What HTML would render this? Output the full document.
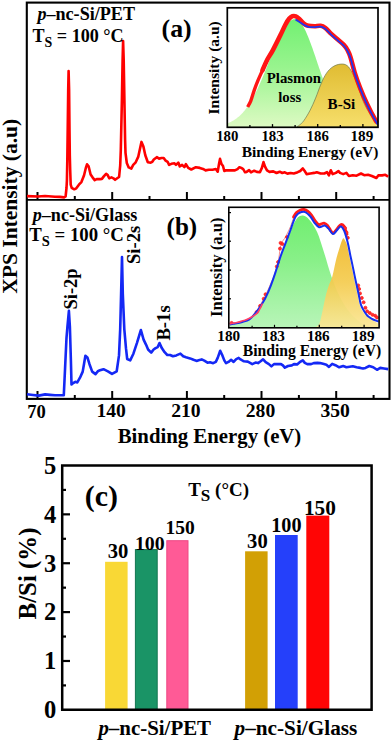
<!DOCTYPE html>
<html><head><meta charset="utf-8"><style>
*{margin:0;padding:0}
html,body{width:392px;height:740px;background:#fff;overflow:hidden}
svg{display:block}
text{font-family:"Liberation Serif",serif;font-weight:bold;fill:#000}
</style></head>
<body><svg width="392" height="740" viewBox="0 0 392 740">
<defs>
<linearGradient id="gga" gradientUnits="userSpaceOnUse" x1="0" y1="19" x2="0" y2="126"><stop offset="0" stop-color="#72F072"/><stop offset="0.45" stop-color="#98F48E"/><stop offset="1" stop-color="#DCFAC2"/></linearGradient>
<linearGradient id="yga" gradientUnits="userSpaceOnUse" x1="0" y1="64" x2="0" y2="126"><stop offset="0" stop-color="#E0BC32"/><stop offset="1" stop-color="#F6DE6A"/></linearGradient>
<linearGradient id="ggb" gradientUnits="userSpaceOnUse" x1="0" y1="215" x2="0" y2="327"><stop offset="0" stop-color="#70EE70"/><stop offset="0.4" stop-color="#88F088"/><stop offset="1" stop-color="#B8F5B8"/></linearGradient>
<linearGradient id="ygb" gradientUnits="userSpaceOnUse" x1="0" y1="238" x2="0" y2="327"><stop offset="0" stop-color="#F0B82A"/><stop offset="0.5" stop-color="#F4CC50"/><stop offset="1" stop-color="#FAE694"/></linearGradient>
</defs>
<rect x="26.8" y="2.6" width="362.7" height="396.3" fill="none" stroke="#000" stroke-width="2.1"/>
<line x1="27" y1="199.8" x2="389.5" y2="199.8" stroke="#000" stroke-width="1.8"/>
<line x1="37.5" y1="199.0" x2="37.5" y2="192.0" stroke="#000" stroke-width="2"/>
<line x1="37.5" y1="398.0" x2="37.5" y2="391.0" stroke="#000" stroke-width="2"/>
<line x1="74.8" y1="199.0" x2="74.8" y2="196.0" stroke="#000" stroke-width="2"/>
<line x1="74.8" y1="398.0" x2="74.8" y2="395.0" stroke="#000" stroke-width="2"/>
<line x1="112.2" y1="199.0" x2="112.2" y2="192.0" stroke="#000" stroke-width="2"/>
<line x1="112.2" y1="398.0" x2="112.2" y2="391.0" stroke="#000" stroke-width="2"/>
<line x1="149.5" y1="199.0" x2="149.5" y2="196.0" stroke="#000" stroke-width="2"/>
<line x1="149.5" y1="398.0" x2="149.5" y2="395.0" stroke="#000" stroke-width="2"/>
<line x1="186.9" y1="199.0" x2="186.9" y2="192.0" stroke="#000" stroke-width="2"/>
<line x1="186.9" y1="398.0" x2="186.9" y2="391.0" stroke="#000" stroke-width="2"/>
<line x1="224.2" y1="199.0" x2="224.2" y2="196.0" stroke="#000" stroke-width="2"/>
<line x1="224.2" y1="398.0" x2="224.2" y2="395.0" stroke="#000" stroke-width="2"/>
<line x1="261.5" y1="199.0" x2="261.5" y2="192.0" stroke="#000" stroke-width="2"/>
<line x1="261.5" y1="398.0" x2="261.5" y2="391.0" stroke="#000" stroke-width="2"/>
<line x1="298.9" y1="199.0" x2="298.9" y2="196.0" stroke="#000" stroke-width="2"/>
<line x1="298.9" y1="398.0" x2="298.9" y2="395.0" stroke="#000" stroke-width="2"/>
<line x1="336.2" y1="199.0" x2="336.2" y2="192.0" stroke="#000" stroke-width="2"/>
<line x1="336.2" y1="398.0" x2="336.2" y2="391.0" stroke="#000" stroke-width="2"/>
<line x1="373.6" y1="199.0" x2="373.6" y2="196.0" stroke="#000" stroke-width="2"/>
<line x1="373.6" y1="398.0" x2="373.6" y2="395.0" stroke="#000" stroke-width="2"/>
<path d="M27.0,196.1 L38.0,196.5 L45.0,196.0 L55.0,196.7 L60.0,196.9 L64.1,197.4 L65.6,196.5 L66.5,188.0 L66.9,180.6 L67.3,160.2 L67.7,130.0 L68.2,90.0 L68.6,71.0 L69.1,90.0 L69.5,130.0 L69.8,155.0 L70.2,170.4 L70.7,184.7 L71.7,187.8 L74.3,189.3 L76.3,188.3 L78.9,184.7 L81.4,182.1 L84.0,175.5 L86.0,167.3 L87.0,164.3 L88.6,166.3 L90.6,174.5 L92.7,177.6 L94.7,180.1 L96.7,179.1 L100.0,179.1 L101.9,178.9 L103.8,176.4 L106.1,173.8 L107.7,175.1 L109.2,178.3 L111.5,177.4 L113.4,178.3 L115.1,179.8 L117.2,178.3 L119.1,177.0 L120.2,165.5 L120.8,150.0 L121.9,100.0 L122.6,60.0 L123.1,41.0 L123.7,60.0 L124.4,100.0 L125.1,140.0 L125.5,152.8 L126.8,163.0 L128.7,167.4 L131.3,168.7 L133.2,164.9 L135.7,162.3 L138.3,156.6 L140.2,147.7 L141.5,141.9 L143.4,146.4 L145.3,155.3 L147.8,162.3 L150.7,162.6 L152.3,161.8 L153.8,159.5 L156.8,157.2 L159.1,158.7 L161.4,158.0 L163.7,158.0 L165.3,160.3 L167.6,161.8 L169.1,164.9 L171.4,163.8 L174.5,163.3 L176.0,164.9 L178.3,162.6 L179.8,166.4 L182.1,164.9 L184.4,167.2 L185.9,164.1 L188.2,167.9 L191.3,169.5 L195.9,167.2 L199.8,167.9 L203.0,168.9 L205.6,170.4 L208.8,169.8 L212.6,169.8 L215.8,169.1 L217.7,171.7 L219.0,164.0 L220.0,158.9 L221.5,164.0 L223.0,166.0 L224.3,171.0 L226.0,170.2 L229.2,170.4 L232.4,170.2 L234.9,170.4 L237.5,169.1 L239.4,167.2 L241.3,167.9 L243.2,169.1 L245.1,172.3 L246.6,171.9 L249.1,170.2 L251.0,172.3 L254.2,170.7 L256.8,171.9 L259.9,172.3 L261.9,167.9 L263.5,162.1 L265.0,166.6 L267.0,170.4 L269.5,171.9 L273.3,171.4 L276.5,173.0 L279.7,171.7 L282.3,173.0 L284.8,172.3 L287.4,173.6 L290.6,173.0 L293.8,173.5 L297.7,172.2 L300.2,171.0 L302.8,168.4 L304.7,171.0 L306.6,174.1 L310.4,173.5 L314.2,172.9 L316.8,172.2 L320.6,173.5 L324.4,173.5 L327.0,172.2 L328.9,175.4 L330.8,170.3 L332.7,174.1 L335.9,172.9 L338.5,171.0 L340.0,172.9 L343.2,174.1 L346.4,172.9 L348.9,176.0 L352.8,175.2 L356.6,175.7 L361.0,173.5 L364.2,175.2 L368.1,174.8 L371.9,176.0 L376.4,178.0 L378.3,175.4 L382.1,175.4 L385.3,174.8 L388.2,176.7" fill="none" stroke="#FF0000" stroke-width="2.6" stroke-linejoin="round"/>
<path d="M27.0,394.3 L33.0,395.0 L38.8,395.6 L45.1,394.4 L50.0,394.9 L55.0,395.3 L63.8,395.3 L65.1,367.6 L66.5,337.8 L67.4,327.0 L68.9,310.8 L69.9,327.0 L70.9,360.8 L71.5,384.5 L73.2,383.1 L75.3,381.8 L77.3,382.4 L80.0,377.7 L82.7,371.6 L84.1,363.5 L85.4,355.7 L87.4,357.4 L89.5,364.2 L92.2,371.6 L95.5,374.1 L98.2,370.9 L100.0,370.3 L103.5,369.2 L107.9,371.3 L112.0,373.9 L116.7,371.3 L119.0,355.4 L120.2,329.1 L121.1,293.9 L122.0,257.0 L122.8,293.9 L124.3,329.1 L126.0,348.4 L127.2,359.0 L130.2,360.4 L133.4,353.7 L136.9,343.1 L140.9,330.0 L143.6,339.6 L146.0,344.6 L148.1,349.5 L151.2,352.6 L153.6,349.5 L155.6,348.1 L157.7,347.1 L159.5,343.0 L161.8,348.1 L164.6,352.2 L167.3,355.0 L170.1,355.0 L172.9,356.3 L176.3,355.4 L180.4,353.6 L183.2,356.3 L186.0,357.3 L190.1,358.4 L193.5,359.8 L197.0,360.9 L198.6,360.2 L201.7,359.4 L204.3,360.7 L207.5,362.7 L210.0,362.3 L213.2,363.2 L215.8,361.9 L217.7,357.9 L220.2,350.8 L222.1,354.7 L224.3,360.4 L226.0,363.2 L228.5,361.9 L231.1,359.8 L233.6,361.9 L236.2,359.1 L238.7,357.9 L240.6,359.4 L243.2,361.0 L244.0,361.3 L247.8,361.6 L252.3,364.1 L255.5,362.6 L258.0,363.1 L260.6,361.3 L263.1,359.3 L265.7,362.2 L268.9,364.1 L271.4,366.4 L274.0,364.1 L277.2,364.1 L281.0,364.1 L282.9,365.4 L284.8,367.7 L288.0,366.0 L291.8,365.4 L294.0,364.1 L297.1,364.4 L299.7,362.2 L302.8,360.3 L304.8,362.9 L307.3,364.1 L311.1,364.1 L313.7,363.1 L317.5,362.9 L320.1,363.1 L323.9,364.1 L326.4,364.8 L329.0,366.9 L332.2,363.9 L335.4,365.2 L339.2,367.3 L343.2,366.0 L346.4,367.2 L352.8,366.3 L356.6,367.2 L360.4,367.9 L363.0,368.5 L365.5,367.9 L369.3,366.0 L373.2,367.2 L377.0,369.8 L380.2,367.9 L384.0,368.5 L388.2,369.1" fill="none" stroke="#1428F5" stroke-width="2.6" stroke-linejoin="round"/>
<rect x="227.3" y="7.8" width="150.7" height="119.5" fill="#fff"/>
<path d="M227.8,127.0 L227.8,123.2 L228.5,122.9 L229.3,122.6 L230.0,122.2 L230.8,121.9 L231.5,121.5 L232.3,121.1 L233.0,120.7 L233.8,120.3 L234.5,119.8 L235.3,119.3 L236.0,118.8 L236.8,118.2 L237.5,117.6 L238.3,117.0 L239.0,116.4 L239.8,115.7 L240.5,115.0 L241.3,114.3 L242.0,113.5 L242.8,112.7 L243.5,111.8 L244.3,110.9 L245.0,110.0 L245.8,109.1 L246.5,108.1 L247.3,107.0 L248.0,105.9 L248.8,104.8 L249.5,103.7 L250.3,102.5 L251.0,101.2 L251.8,100.0 L252.5,98.7 L253.2,97.3 L254.0,95.9 L254.7,94.5 L255.5,93.0 L256.2,91.5 L257.0,90.0 L257.7,88.4 L258.5,86.8 L259.2,85.1 L260.0,83.5 L260.7,81.8 L261.5,80.0 L262.2,78.3 L263.0,76.5 L263.7,74.7 L264.5,72.9 L265.2,71.0 L266.0,69.2 L266.7,67.3 L267.5,65.5 L268.2,63.6 L269.0,61.7 L269.7,59.8 L270.5,57.9 L271.2,56.1 L272.0,54.2 L272.7,52.4 L273.5,50.5 L274.2,48.7 L275.0,46.9 L275.7,45.2 L276.5,43.4 L277.2,41.7 L277.9,40.1 L278.7,38.4 L279.4,36.9 L280.2,35.3 L280.9,33.9 L281.7,32.4 L282.4,31.1 L283.2,29.8 L283.9,28.5 L284.7,27.4 L285.4,26.3 L286.2,25.2 L286.9,24.3 L287.7,23.4 L288.4,22.6 L289.2,21.9 L289.9,21.2 L290.7,20.7 L291.4,20.2 L292.2,19.8 L292.9,19.5 L293.7,19.3 L294.4,19.2 L295.2,19.2 L295.9,19.3 L296.7,19.5 L297.4,19.8 L298.2,20.3 L298.9,20.9 L299.7,21.6 L300.4,22.4 L301.2,23.3 L301.9,24.4 L302.6,25.5 L303.4,26.8 L304.1,28.1 L304.9,29.6 L305.6,31.1 L306.4,32.7 L307.1,34.4 L307.9,36.2 L308.6,38.0 L309.4,40.0 L310.1,41.9 L310.9,43.9 L311.6,46.0 L312.4,48.1 L313.1,50.2 L313.9,52.4 L314.6,54.6 L315.4,56.8 L316.1,59.0 L316.9,61.2 L317.6,63.5 L318.4,65.7 L319.1,67.9 L319.9,70.1 L320.6,72.3 L321.4,74.4 L322.1,76.6 L322.9,78.6 L323.6,80.7 L324.4,82.7 L325.1,84.7 L325.9,86.7 L326.6,88.6 L327.4,90.4 L328.1,92.2 L328.8,94.0 L329.6,95.7 L330.3,97.3 L331.1,98.9 L331.8,100.5 L332.6,102.0 L333.3,103.4 L334.1,104.8 L334.8,106.1 L335.6,107.3 L336.3,108.5 L337.1,109.7 L337.8,110.8 L338.6,111.8 L339.3,112.8 L340.1,113.8 L340.8,114.7 L341.6,115.5 L342.3,116.3 L343.1,117.1 L343.8,117.8 L344.6,118.5 L345.3,119.1 L346.1,119.7 L346.8,120.3 L347.6,120.8 L348.3,121.3 L349.1,121.7 L349.8,122.2 L350.6,122.6 L351.3,122.9 L352.1,123.3 L352.8,123.6 L353.5,123.9 L354.3,124.1 L355.0,124.4 L355.8,124.6 L356.5,124.8 L357.3,125.0 L358.0,125.2 L358.8,125.4 L359.5,125.5 L360.3,125.7 L361.0,125.8 L361.8,125.9 L362.5,126.0 L363.3,126.1 L364.0,126.2 L364.8,126.3 L365.5,126.4 L366.3,126.4 L367.0,126.5 L367.8,126.5 L368.5,126.6 L369.3,126.6 L370.0,126.7 L370.8,126.7 L371.5,126.7 L372.3,126.8 L373.0,126.8 L373.8,126.8 L374.5,126.8 L375.3,126.9 L376.0,126.9 L376.8,126.9 L377.5,126.9 L377.5,127.0 Z" fill="url(#gga)"/>
<path d="M297.5,126.3 C297.8,126.1 298.3,126.1 299.3,125.2 C300.3,124.3 301.9,123.4 303.7,120.9 C305.5,118.4 308.2,113.9 310.2,110.1 C312.2,106.3 313.8,102.4 315.6,98.1 C317.4,93.8 319.2,88.2 321.0,84.0 C322.8,79.8 324.5,76.1 326.5,73.2 C328.5,70.3 330.6,68.2 333.0,66.7 C335.4,65.2 338.2,64.3 340.6,64.1 C343.0,63.9 345.1,64.1 347.1,65.6 C349.1,67.1 350.7,69.8 352.5,73.2 C354.3,76.6 356.1,81.5 357.9,86.2 C359.7,90.9 361.5,97.1 363.3,101.4 C365.1,105.7 367.0,109.1 368.8,112.2 C370.6,115.3 372.8,118.0 374.2,119.8 C375.6,121.6 376.9,122.3 377.5,122.8 L377.5,127.0 L297.5,127.0 Z" fill="url(#yga)" stroke="#6E7850" stroke-width="0.7"/>
<path d="M262.5,70.2 C263.3,68.5 265.4,63.4 267.1,60.0 C268.8,56.6 270.7,54.2 272.9,50.1 C275.1,46.0 278.1,39.9 280.2,35.6 C282.3,31.3 284.0,27.3 285.5,24.5 C287.0,21.7 288.1,20.0 289.3,18.6 C290.5,17.2 291.4,16.6 292.5,16.2 C293.6,15.8 294.7,15.9 295.8,16.3 C296.9,16.7 297.7,17.4 299.0,18.6 C300.3,19.8 302.2,22.4 303.8,23.6 C305.4,24.8 306.6,25.4 308.4,25.8 C310.2,26.2 312.5,26.2 314.5,26.2 C316.5,26.2 318.8,25.5 320.6,25.8 C322.4,26.1 323.4,26.5 325.2,27.8 C327.0,29.1 329.2,32.0 331.3,33.9 C333.4,35.8 335.4,37.5 337.5,39.3 C339.6,41.1 341.9,42.8 343.6,44.6 C345.3,46.4 346.4,47.9 347.5,50.0 C348.6,52.1 349.3,53.4 350.5,57.2 C351.7,61.0 353.1,67.5 354.7,72.6 C356.3,77.7 358.1,82.7 360.1,87.8 C362.1,92.9 364.6,98.7 366.6,103.0 C368.6,107.3 370.4,110.7 372.0,113.8 C373.6,116.9 375.6,120.2 376.3,121.5" fill="none" stroke="#FF1515" stroke-width="4.6" stroke-linejoin="round" stroke-linecap="round"/>
<path d="M247.7,106.9 C248.2,105.9 249.7,103.5 250.8,100.8 C251.9,98.1 252.9,94.0 254.1,90.6 C255.3,87.2 256.6,83.8 258.0,80.4 C259.4,77.0 261.0,73.6 262.5,70.2 C264.0,66.8 266.3,61.7 267.1,60.0" fill="none" stroke="#FF1515" stroke-width="3.4" stroke-linejoin="round" stroke-linecap="butt"/>
<path d="M295.5,19.4 C296.1,19.8 297.8,20.9 299.2,21.8 C300.6,22.7 302.3,24.0 303.8,24.8 C305.3,25.6 306.6,26.4 308.4,26.8 C310.2,27.2 312.5,27.1 314.5,27.1 C316.5,27.1 318.8,26.4 320.6,26.7 C322.4,27.0 323.4,27.4 325.2,28.7 C327.0,30.0 329.2,32.9 331.3,34.8 C333.4,36.7 335.4,38.4 337.5,40.2 C339.6,42.0 341.9,43.7 343.6,45.5 C345.3,47.3 346.4,48.9 347.5,51.0 C348.6,53.1 349.3,54.3 350.5,58.0 C351.7,61.7 353.1,68.1 354.7,73.2 C356.3,78.3 358.1,83.3 360.1,88.4 C362.1,93.5 364.6,99.3 366.6,103.6 C368.6,107.9 370.4,111.3 372.0,114.4 C373.6,117.5 375.4,120.3 376.3,122.0 C377.2,123.7 377.3,124.1 377.5,124.5" fill="none" stroke="#2035EE" stroke-width="1.8" stroke-linejoin="round"/>
<rect x="227.3" y="7.8" width="150.7" height="119.5" fill="none" stroke="#000" stroke-width="1.7"/>
<line x1="249.9" y1="127.3" x2="249.9" y2="125.1" stroke="#000" stroke-width="1.3"/>
<line x1="272.5" y1="127.3" x2="272.5" y2="124.1" stroke="#000" stroke-width="1.3"/>
<line x1="295.1" y1="127.3" x2="295.1" y2="125.1" stroke="#000" stroke-width="1.3"/>
<line x1="317.7" y1="127.3" x2="317.7" y2="124.1" stroke="#000" stroke-width="1.3"/>
<line x1="340.3" y1="127.3" x2="340.3" y2="125.1" stroke="#000" stroke-width="1.3"/>
<line x1="362.9" y1="127.3" x2="362.9" y2="124.1" stroke="#000" stroke-width="1.3"/>
<rect x="228.8" y="207.3" width="150.3" height="120.5" fill="#fff"/>
<path d="M229.8,324.8 C230.4,324.6 231.3,324.3 233.4,323.9 C235.5,323.5 239.6,322.9 242.3,322.2 C245.0,321.5 247.3,320.8 249.4,319.5 C251.5,318.2 253.0,316.3 254.8,314.2 C256.6,312.1 258.3,309.8 260.1,307.1 C261.9,304.5 263.7,301.8 265.5,298.3 C267.3,294.8 269.3,290.0 270.9,285.9 C272.5,281.8 273.8,277.9 275.3,273.5 C276.8,269.1 278.2,264.1 279.8,259.4 C281.4,254.7 283.3,249.8 285.1,245.2 C286.9,240.5 288.6,235.9 290.5,231.5 C292.4,227.1 294.4,221.7 296.5,219.0 C298.6,216.3 300.8,215.4 303.0,215.6 C305.2,215.8 307.1,217.3 309.5,220.0 C311.9,222.7 314.6,226.5 317.1,232.0 C319.6,237.5 321.9,245.8 324.3,253.2 C326.7,260.6 328.7,268.9 331.4,276.4 C334.1,283.8 337.1,291.6 340.4,297.9 C343.7,304.1 347.2,309.4 351.1,313.9 C355.0,318.3 360.5,322.5 363.6,324.6 C366.8,326.7 368.9,326.2 370.0,326.5 L370.0,327.5 L229.8,327.5 Z" fill="url(#ggb)"/>
<path d="M316.5,326.5 C316.9,326.2 318.2,325.8 318.9,324.6 C319.6,323.4 319.9,322.3 320.7,319.3 C321.4,316.3 322.5,311.0 323.4,306.8 C324.3,302.6 325.2,297.9 326.1,294.3 C327.0,290.7 327.8,288.4 328.8,285.4 C329.8,282.4 331.1,280.6 332.3,276.4 C333.5,272.2 334.7,265.1 335.9,260.4 C337.1,255.6 338.5,251.2 339.5,247.9 C340.5,244.6 341.3,242.1 342.0,240.5 C342.7,238.9 342.9,238.1 343.5,238.2 C344.1,238.3 344.7,239.8 345.3,241.0 C345.9,242.2 346.6,243.1 347.2,245.5 C347.8,247.9 348.5,252.5 349.2,255.7 C349.9,258.9 350.5,261.7 351.2,264.9 C351.9,268.1 352.6,271.8 353.3,275.1 C354.0,278.5 354.7,281.7 355.4,285.0 C356.1,288.3 356.9,291.7 357.6,295.0 C358.3,298.3 359.0,302.2 359.8,304.9 C360.6,307.6 361.5,309.2 362.5,311.0 C363.5,312.8 364.6,314.4 366.0,315.7 C367.4,317.0 369.3,317.8 370.8,318.8 C372.3,319.8 373.8,320.7 375.0,321.5 C376.2,322.3 377.7,323.2 378.2,323.5 L378.2,327.5 L316.5,327.5 Z" fill="url(#ygb)" fill-opacity="0.93"/>
<path d="M230.5,323.2 C231.4,323.1 234.0,322.9 236.0,322.6 C238.0,322.3 240.1,321.9 242.3,321.2 C244.5,320.5 247.3,319.8 249.4,318.4 C251.5,317.0 253.4,314.6 254.8,313.0 C256.2,311.4 257.1,310.2 258.0,309.0 C258.9,307.8 259.3,307.0 260.1,305.5 C260.9,304.0 262.1,301.8 263.0,300.0 C263.9,298.2 264.7,296.7 265.5,295.0 C266.3,293.3 267.1,292.0 268.0,290.0 C268.9,288.0 270.0,285.3 271.0,283.0 C272.0,280.7 273.0,278.8 274.0,276.0 C275.0,273.2 276.1,268.8 276.8,266.5 C277.5,264.2 277.7,263.9 278.1,262.0 C278.5,260.1 279.0,257.2 279.3,255.0 C279.6,252.8 279.6,250.6 280.0,248.6 C280.4,246.6 280.8,244.7 281.5,243.0 C282.2,241.3 283.5,240.2 284.5,238.5 C285.5,236.8 286.5,235.0 287.5,233.0 C288.5,231.0 289.5,229.0 290.5,226.5 C291.5,224.0 293.0,219.4 293.5,218.0" fill="none" stroke="#F08080" stroke-width="0.9"/>
<path d="M293.5,217.0 C294.0,216.2 295.4,213.6 296.5,212.5 C297.6,211.4 298.8,210.7 300.0,210.2 C301.2,209.7 302.7,209.3 304.0,209.5 C305.3,209.7 306.8,210.4 308.0,211.3 C309.2,212.2 310.3,213.5 311.5,215.0 C312.7,216.5 313.8,218.9 315.0,220.5 C316.2,222.1 317.4,224.0 318.5,224.6 C319.6,225.2 320.5,224.0 321.5,223.8 C322.5,223.6 323.5,223.0 324.5,223.3 C325.5,223.6 326.5,224.3 327.5,225.5 C328.5,226.7 329.6,228.9 330.5,230.2 C331.4,231.5 332.1,233.2 333.0,233.2 C333.9,233.2 335.0,231.3 336.0,230.2 C337.0,229.0 338.1,227.2 339.0,226.3 C339.9,225.4 340.7,224.5 341.5,224.5 C342.3,224.5 343.3,225.3 344.0,226.2 C344.7,227.1 345.0,228.6 345.5,230.0 C346.0,231.4 346.8,233.8 347.0,234.5" fill="none" stroke="#FF1A1A" stroke-width="2.8" stroke-linecap="round"/>
<circle cx="231.6" cy="322.9" r="1.5" fill="#FF3030" stroke="#FF1A1A" stroke-width="0.8"/>
<circle cx="256.6" cy="312.1" r="1.5" fill="#FF3030" stroke="#FF1A1A" stroke-width="0.8"/>
<circle cx="260.1" cy="305.9" r="1.5" fill="#FF3030" stroke="#FF1A1A" stroke-width="0.8"/>
<circle cx="263.7" cy="298.8" r="1.5" fill="#FF3030" stroke="#FF1A1A" stroke-width="0.8"/>
<circle cx="265.5" cy="294.3" r="1.5" fill="#FF3030" stroke="#FF1A1A" stroke-width="0.8"/>
<circle cx="276.8" cy="266.5" r="1.5" fill="#FF3030" stroke="#FF1A1A" stroke-width="0.8"/>
<circle cx="278.1" cy="262.0" r="1.5" fill="#FF3030" stroke="#FF1A1A" stroke-width="0.8"/>
<circle cx="280.0" cy="248.6" r="1.5" fill="#FF3030" stroke="#FF1A1A" stroke-width="0.8"/>
<circle cx="280.6" cy="242.9" r="1.5" fill="#FF3030" stroke="#FF1A1A" stroke-width="0.8"/>
<circle cx="282.5" cy="244.1" r="1.5" fill="#FF3030" stroke="#FF1A1A" stroke-width="0.8"/>
<circle cx="287.0" cy="237.1" r="1.5" fill="#FF3030" stroke="#FF1A1A" stroke-width="0.8"/>
<circle cx="345.0" cy="228.0" r="1.5" fill="#FF3030" stroke="#FF1A1A" stroke-width="0.8"/>
<circle cx="346.5" cy="232.5" r="1.5" fill="#FF3030" stroke="#FF1A1A" stroke-width="0.8"/>
<circle cx="347.8" cy="237.8" r="1.5" fill="#FF3030" stroke="#FF1A1A" stroke-width="0.8"/>
<circle cx="358.2" cy="285.4" r="1.5" fill="#FF3030" stroke="#FF1A1A" stroke-width="0.8"/>
<circle cx="359.1" cy="288.9" r="1.5" fill="#FF3030" stroke="#FF1A1A" stroke-width="0.8"/>
<circle cx="360.0" cy="293.4" r="1.5" fill="#FF3030" stroke="#FF1A1A" stroke-width="0.8"/>
<circle cx="361.8" cy="297.9" r="1.5" fill="#FF3030" stroke="#FF1A1A" stroke-width="0.8"/>
<circle cx="363.6" cy="302.3" r="1.5" fill="#FF3030" stroke="#FF1A1A" stroke-width="0.8"/>
<circle cx="365.4" cy="307.7" r="1.5" fill="#FF3030" stroke="#FF1A1A" stroke-width="0.8"/>
<circle cx="367.1" cy="311.3" r="1.5" fill="#FF3030" stroke="#FF1A1A" stroke-width="0.8"/>
<circle cx="369.8" cy="313.0" r="1.5" fill="#FF3030" stroke="#FF1A1A" stroke-width="0.8"/>
<circle cx="372.5" cy="314.8" r="1.5" fill="#FF3030" stroke="#FF1A1A" stroke-width="0.8"/>
<circle cx="375.2" cy="315.7" r="1.5" fill="#FF3030" stroke="#FF1A1A" stroke-width="0.8"/>
<circle cx="377.0" cy="317.5" r="1.5" fill="#FF3030" stroke="#FF1A1A" stroke-width="0.8"/>
<path d="M229.8,324.6 C230.4,324.5 231.3,324.2 233.4,323.8 C235.5,323.4 239.6,322.8 242.3,322.0 C245.0,321.2 247.3,320.7 249.4,319.3 C251.5,317.9 253.0,316.0 254.8,313.9 C256.6,311.8 258.3,309.5 260.1,306.8 C261.9,304.1 263.7,301.5 265.5,297.9 C267.3,294.3 269.3,289.6 270.9,285.4 C272.5,281.2 273.8,277.4 275.3,272.9 C276.8,268.4 278.2,263.4 279.8,258.6 C281.4,253.8 283.3,249.1 285.1,244.3 C286.9,239.5 288.7,234.8 290.5,230.0 C292.3,225.2 293.9,218.8 296.1,215.8 C298.3,212.8 301.5,211.8 303.8,211.8 C306.1,211.8 308.1,214.2 309.9,216.0 C311.7,217.8 313.0,220.9 314.5,222.8 C316.0,224.7 317.4,226.7 319.1,227.2 C320.8,227.7 323.0,225.4 324.5,225.6 C326.0,225.8 326.9,227.0 328.3,228.4 C329.7,229.8 331.5,233.7 332.9,234.0 C334.3,234.3 335.5,231.7 336.7,230.5 C337.9,229.3 339.3,227.1 340.2,226.6 C341.1,226.1 341.5,226.5 342.2,227.3 C342.9,228.1 343.6,229.5 344.3,231.2 C345.0,232.9 345.6,234.9 346.3,237.3 C347.0,239.7 347.7,242.4 348.4,245.5 C349.1,248.6 349.7,252.5 350.4,255.7 C351.1,258.9 351.7,261.7 352.4,264.9 C353.1,268.1 353.8,271.8 354.5,275.1 C355.2,278.5 355.9,281.7 356.6,285.0 C357.3,288.3 358.1,291.7 358.8,295.0 C359.5,298.3 360.1,302.2 361.0,304.9 C361.9,307.6 362.9,309.2 364.0,311.0 C365.1,312.8 366.1,314.4 367.4,315.7 C368.7,317.0 370.6,318.0 372.0,318.8 C373.4,319.6 375.0,320.2 376.1,320.6 C377.2,321.1 378.2,321.4 378.6,321.5" fill="none" stroke="#1530F0" stroke-width="2"/>
<path d="M229.5,323.9 C230.1,323.8 231.8,323.5 233.0,323.3 C234.2,323.1 235.6,322.8 237.0,322.5 C238.4,322.2 240.0,321.7 241.3,321.3 C242.6,320.9 243.8,320.6 245.0,320.2 C246.2,319.8 247.2,319.4 248.4,318.8 C249.7,318.2 251.1,317.4 252.5,316.5 C253.9,315.6 255.5,314.7 256.6,313.7 C257.7,312.7 258.3,311.6 259.0,310.5 C259.7,309.4 260.1,308.4 260.7,307.2 C261.3,306.0 262.2,304.1 262.5,303.5" fill="none" stroke="#FF4068" stroke-width="1.6"/>
<rect x="228.8" y="207.3" width="150.3" height="120.5" fill="none" stroke="#000" stroke-width="1.6"/>
<line x1="252.1" y1="327.8" x2="252.1" y2="325.8" stroke="#000" stroke-width="1.2"/>
<line x1="274.5" y1="327.8" x2="274.5" y2="324.8" stroke="#000" stroke-width="1.2"/>
<line x1="296.9" y1="327.8" x2="296.9" y2="325.8" stroke="#000" stroke-width="1.2"/>
<line x1="319.3" y1="327.8" x2="319.3" y2="324.8" stroke="#000" stroke-width="1.2"/>
<line x1="341.7" y1="327.8" x2="341.7" y2="325.8" stroke="#000" stroke-width="1.2"/>
<line x1="364.1" y1="327.8" x2="364.1" y2="324.8" stroke="#000" stroke-width="1.2"/>
<line x1="228.8" y1="212.6" x2="231.0" y2="212.6" stroke="#000" stroke-width="1.2"/>
<line x1="228.8" y1="241.2" x2="231.0" y2="241.2" stroke="#000" stroke-width="1.2"/>
<line x1="228.8" y1="270.1" x2="231.0" y2="270.1" stroke="#000" stroke-width="1.2"/>
<line x1="228.8" y1="298.8" x2="231.0" y2="298.8" stroke="#000" stroke-width="1.2"/>
<rect x="105.1" y="561.8" width="22.5" height="147.7" fill="#F9D835"/>
<rect x="135.4" y="549.6" width="21.8" height="160.4" fill="#1A9466" stroke="#137550" stroke-width="1"/>
<rect x="166.8" y="540.7" width="21.2" height="169.3" fill="#FF5A96" stroke="#EE4884" stroke-width="1"/>
<rect x="245.1" y="551.3" width="22.5" height="158.2" fill="#D2A005"/>
<rect x="275.0" y="535.0" width="22.7" height="174.5" fill="#2540FA"/>
<rect x="306.3" y="515.6" width="23.0" height="193.9" fill="#FF0505"/>
<path d="M62.2,465.5 L371.6,465.5 L371.6,709.8 L62.2,709.8 Z" fill="none" stroke="#000" stroke-width="2.5"/>
<line x1="62.2" y1="685.41" x2="66.0" y2="685.41" stroke="#000" stroke-width="2.2"/>
<line x1="62.2" y1="660.98" x2="70.0" y2="660.98" stroke="#000" stroke-width="2.2"/>
<line x1="62.2" y1="636.54" x2="66.0" y2="636.54" stroke="#000" stroke-width="2.2"/>
<line x1="62.2" y1="612.10" x2="70.0" y2="612.10" stroke="#000" stroke-width="2.2"/>
<line x1="62.2" y1="587.66" x2="66.0" y2="587.66" stroke="#000" stroke-width="2.2"/>
<line x1="62.2" y1="563.23" x2="70.0" y2="563.23" stroke="#000" stroke-width="2.2"/>
<line x1="62.2" y1="538.79" x2="66.0" y2="538.79" stroke="#000" stroke-width="2.2"/>
<line x1="62.2" y1="514.35" x2="70.0" y2="514.35" stroke="#000" stroke-width="2.2"/>
<line x1="62.2" y1="489.91" x2="66.0" y2="489.91" stroke="#000" stroke-width="2.2"/>
<text id="t_xl70" x="36.50" y="417.80" font-size="18.59" text-anchor="middle">70</text>
<text id="t_xl140" x="111.20" y="417.30" font-size="19.61" text-anchor="middle">140</text>
<text id="t_xl210" x="185.90" y="417.30" font-size="19.61" text-anchor="middle">210</text>
<text id="t_xl280" x="260.50" y="417.30" font-size="19.61" text-anchor="middle">280</text>
<text id="t_xl350" x="335.20" y="417.30" font-size="19.61" text-anchor="middle">350</text>
<text id="t_xlab" x="209.50" y="443.00" font-size="20.79" text-anchor="middle">Binding Energy (eV)</text>
<text id="t_ylab" transform="translate(16.70,206.25) rotate(-90)" font-size="21.49" text-anchor="middle">XPS Intensity (a.u)</text>
<text id="t_pa1" x="37.40" y="20.30" font-size="18.11"><tspan font-style="italic">p</tspan>–nc-Si/PET</text>
<text id="t_pa2" x="32.50" y="42.00" font-size="18.10">T<tspan font-size="0.77em" dy="4.5">S</tspan><tspan dy="-4.5"> = 100 °C</tspan></text>
<text id="t_pa3" x="161.60" y="37.30" font-size="25.85">(a)</text>
<text id="t_pb1" x="32.70" y="220.90" font-size="18.11"><tspan font-style="italic">p</tspan>–nc-Si/Glass</text>
<text id="t_pb2" x="29.20" y="241.30" font-size="18.81">T<tspan font-size="0.77em" dy="4.5">S</tspan><tspan dy="-4.5"> = 100 °C</tspan></text>
<text id="t_pb3" x="166.60" y="234.60" font-size="25.04">(b)</text>
<text id="t_si2p" transform="translate(76.50,309.50) rotate(-90)" font-size="18.49">Si-2p</text>
<text id="t_si2s" transform="translate(140.20,264.05) rotate(-90)" font-size="18.66">Si-2s</text>
<text id="t_b1s" transform="translate(170.10,340.60) rotate(-90)" font-size="18.68">B-1s</text>
<text id="t_ia180" x="227.30" y="140.80" font-size="14.81" text-anchor="middle">180</text>
<text id="t_ia183" x="272.50" y="140.80" font-size="14.81" text-anchor="middle">183</text>
<text id="t_ia186" x="317.70" y="140.80" font-size="14.81" text-anchor="middle">186</text>
<text id="t_ia189" x="361.90" y="140.80" font-size="15.20" text-anchor="middle">189</text>
<text id="t_iaxl" x="310.00" y="157.10" font-size="15.47" text-anchor="middle">Binding Energy (eV)</text>
<text id="t_iayl" transform="translate(219.30,67.85) rotate(-90)" font-size="15.55" text-anchor="middle">Intensity (a.u)</text>
<text id="t_plas" x="266.80" y="83.40" font-size="14.80">Plasmon</text>
<text id="t_loss" x="278.20" y="101.80" font-size="14.80">loss</text>
<text id="t_bsi" x="327.60" y="108.60" font-size="15.11">B-Si</text>
<text id="t_ib180" x="228.70" y="341.30" font-size="15.19" text-anchor="middle">180</text>
<text id="t_ib183" x="273.50" y="341.30" font-size="15.19" text-anchor="middle">183</text>
<text id="t_ib186" x="318.30" y="341.30" font-size="15.19" text-anchor="middle">186</text>
<text id="t_ib189" x="363.10" y="341.30" font-size="15.19" text-anchor="middle">189</text>
<text id="t_ibxl" x="312.00" y="356.40" font-size="15.69" text-anchor="middle">Binding Energy (eV)</text>
<text id="t_ibyl" transform="translate(222.00,267.25) rotate(-90)" font-size="16.60" text-anchor="middle">Intensity (a.u)</text>
<text id="t_c0" x="56.30" y="718.18" font-size="24.57" text-anchor="end">0</text>
<text id="t_c1" x="56.30" y="669.30" font-size="24.57" text-anchor="end">1</text>
<text id="t_c2" x="56.30" y="620.42" font-size="24.57" text-anchor="end">2</text>
<text id="t_c3" x="56.30" y="571.55" font-size="24.57" text-anchor="end">3</text>
<text id="t_c4" x="56.30" y="522.68" font-size="24.57" text-anchor="end">4</text>
<text id="t_c5" x="56.30" y="473.80" font-size="24.57" text-anchor="end">5</text>
<text id="t_cyl" transform="translate(36.00,573.50) rotate(-90)" font-size="24.88" text-anchor="middle">B/Si (%)</text>
<text id="t_bl1" x="118.00" y="558.40" font-size="20.62" text-anchor="middle">30</text>
<text id="t_bl2" x="149.80" y="549.50" font-size="19.89" text-anchor="middle">100</text>
<text id="t_bl3" x="180.10" y="534.20" font-size="19.52" text-anchor="middle">150</text>
<text id="t_bl4" x="257.40" y="547.70" font-size="20.61" text-anchor="middle">30</text>
<text id="t_bl5" x="286.40" y="532.30" font-size="20.22" text-anchor="middle">100</text>
<text id="t_bl6" x="319.90" y="515.20" font-size="21.32" text-anchor="middle">150</text>
<text id="t_clab" x="84.80" y="505.50" font-size="29.96">(c)</text>
<text id="t_ts" x="188.20" y="496.20" font-size="18.97">T<tspan font-size="0.9em" dy="5">S</tspan><tspan dy="-5"> (°C)</tspan></text>
<text id="t_g1" x="98.40" y="734.50" font-size="20.91"><tspan font-style="italic">p</tspan>–nc-Si/PET</text>
<text id="t_g2" x="234.50" y="734.50" font-size="21.26"><tspan font-style="italic">p</tspan>–nc-Si/Glass</text>
</svg></body></html>
